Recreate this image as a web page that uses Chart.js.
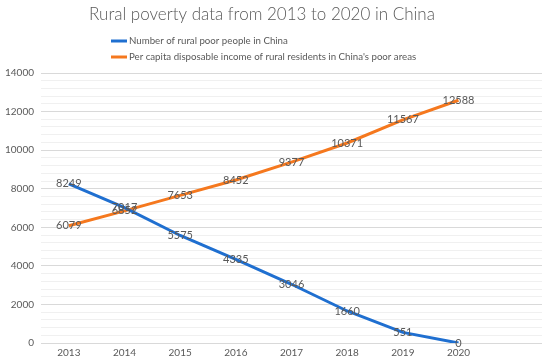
<!DOCTYPE html>
<html>
<head>
<meta charset="utf-8">
<script src="https://cdn.jsdelivr.net/npm/chart.js@4"></script>
<style>
body{margin:0;background:#fff;}
#wrap{width:550px;height:364px;}
</style>
</head>
<body>
<div id="wrap"><canvas id="chart" width="550" height="364"></canvas></div>
<script>
// data
const years = ["2013","2014","2015","2016","2017","2018","2019","2020",""];
const poorPeople = [8249,7017,5575,4335,3046,1660,551,0,null];
const income = [6079,6852,7653,8452,9377,10371,11567,12588,null];
const yTicks = [0,2000,4000,6000,8000,10000,12000,14000];

const titleText = "Rural poverty data from 2013 to 2020 in China";
const grey = "#595959";
const fam = "Lato";

// title + stacked legend, drawn by hand so rows stay left aligned
const headerPlugin = {
  id:"header",
  afterDraw(chart){
    const c = chart.ctx;
    c.save();
    c.fillStyle = grey;
    c.font = "300 17px " + fam;
    c.textAlign = "center";
    c.textBaseline = "alphabetic";
    c.fillText(titleText, 262, 20);

    c.font = "9.7px " + fam;
    c.textAlign = "left";
    c.textBaseline = "middle";
    chart.data.datasets.forEach((ds,i)=>{
      const y = 41 + i*16;
      c.strokeStyle = ds.borderColor;
      c.lineWidth = 3;
      c.beginPath();
      c.moveTo(111,y);
      c.lineTo(127,y);
      c.stroke();
      c.fillStyle = grey;
      c.fillText(ds.label, 129, y);
    });
    c.restore();
  }
};

// value labels sitting on the points
const valuePlugin = {
  id:"values",
  afterDatasetsDraw(chart){
    const c = chart.ctx;
    c.save();
    c.fillStyle = grey;
    c.font = "11px " + fam;
    c.textAlign = "center";
    c.textBaseline = "middle";
    chart.data.datasets.forEach((ds,i)=>{
      chart.getDatasetMeta(i).data.forEach((pt,j)=>{
        if(ds.data[j]==null) return;
        c.fillText(ds.data[j], pt.x, pt.y);
      });
    });
    c.restore();
  }
};

new Chart(document.getElementById("chart"),{
  type:"line",
  data:{
    labels:years,
    datasets:[
      {label:"Number of rural poor people in China",data:poorPeople,borderColor:"#1f6fd0",backgroundColor:"#1f6fd0",borderWidth:3,pointRadius:0,tension:0},
      {label:"Per capita disposable income of rural residents in China's poor areas",data:income,borderColor:"#f5781e",backgroundColor:"#f5781e",borderWidth:3,pointRadius:0,tension:0}
    ]
  },
  plugins:[headerPlugin,valuePlugin],
  options:{
    responsive:false,
    animation:false,
    layout:{padding:{top:73,right:8,left:-2,bottom:1}},
    plugins:{legend:{display:false},title:{display:false},tooltip:{enabled:false}},
    scales:{
      x:{
        offset:true,
        grid:{display:false,drawTicks:false},
        border:{display:false},
        ticks:{color:grey,font:{size:10,family:fam},padding:4,autoSkip:false,maxRotation:0}
      },
      y:{
        min:0,max:14000,
        border:{display:false},
        grid:{drawTicks:false,color:ctx=>ctx.tick && ctx.tick.value%2000===0 ? "#d9d9d9" : "#f0f0f0",lineWidth:1},
        ticks:{stepSize:400,autoSkip:false,color:grey,font:{size:10,family:fam},padding:7,
          callback:v=>yTicks.includes(v)?v:""}
      }
    }
  }
});
</script>
</body>
</html>
